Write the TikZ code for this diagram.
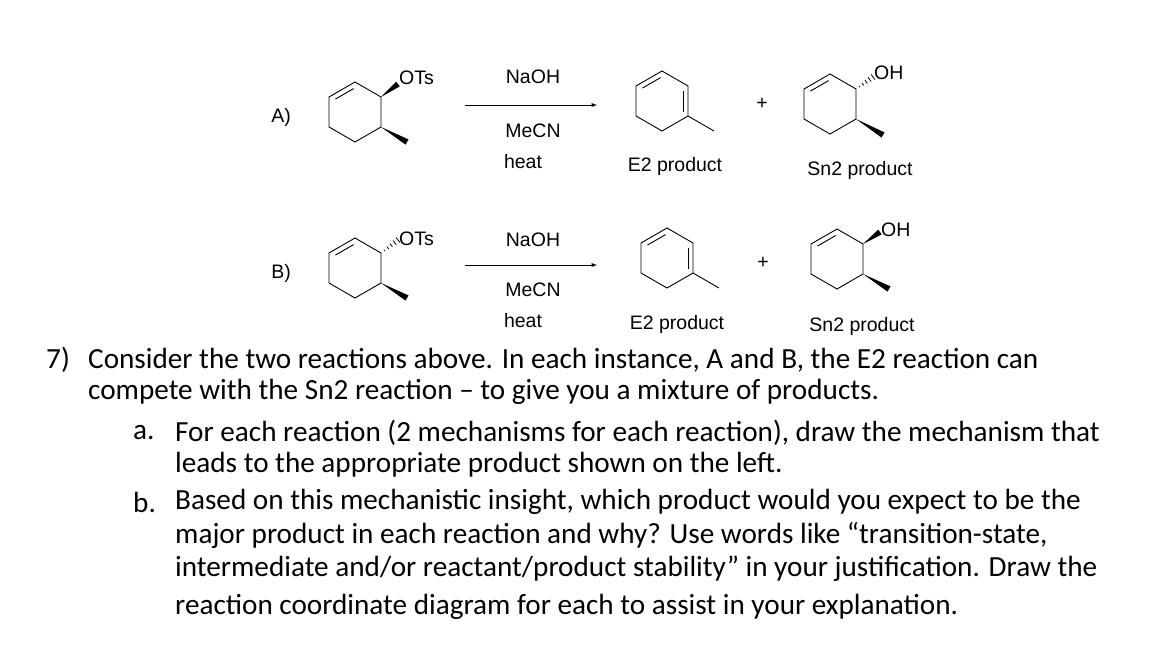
\documentclass[tikz,border=0pt]{standalone}
\usepackage{fontspec}
\setmainfont{Liberation Sans}
\newfontfamily\qfont{Carlito}
\usetikzlibrary{calc}
\tikzset{
  chem/.style={font=\fontsize{19.5}{22}\selectfont, inner sep=0pt},
  q/.style={font=\qfont\fontsize{29.2}{32}\selectfont, anchor=west, inner sep=0pt},
  bond/.style={line width=0.9pt},
}
\newcommand\ring[3]{%
  \coordinate (#1t) at ({#2},{#3-30});
  \coordinate (#1ur) at ({#2+26},{#3-15});
  \coordinate (#1lr) at ({#2+26},{#3+15});
  \coordinate (#1b) at ({#2},{#3+30});
  \coordinate (#1ll) at ({#2-26},{#3+15});
  \coordinate (#1ul) at ({#2-26},{#3-15});
  \draw[bond] (#1t)--(#1ur)--(#1lr)--(#1b)--(#1ll)--(#1ul)--cycle;
  \draw[bond] ({#2-1.4},{#3-23.4}) -- ({#2-19.6},{#3-12.9});
}
\newcommand\wedgeb[2]{\fill (#1) -- ($(#2)!3pt!90:(#1)$) -- ($(#2)!3pt!-90:(#1)$) -- cycle;}
\newcommand\hashb[2]{\foreach \t/\w in {0.2/0.8,0.4/1.4,0.6/2,0.8/2.6,1/3.2}
  {\draw[line width=0.8pt] ($(#1)!\t!(#2)!\w pt!90:(#1)$) -- ($(#1)!\t!(#2)!\w pt!-90:(#1)$);}}
\begin{document}
\begin{tikzpicture}[x=1pt,y=-1pt]
\useasboundingbox (0,0) rectangle (1164,656);
% A
\node[chem] (la) at (281,117) {A)};
\ring{ra}{355}{112}
\wedgeb{raur}{398,84}
\node[chem,anchor=west] (ota) at (399,78) {OTs};
\coordinate (rame) at (407,142);
\wedgeb{ralr}{rame}
\coordinate (a1) at (465,105); \coordinate (a2) at (597,105);
\draw[bond,-latex] (a1) -- (a2);
\node[chem] (na) at (533,77) {NaOH};
\node[chem] (ma) at (533,131) {MeCN};
\node[chem] (ha) at (523,162) {heat};
\ring{ea}{662}{101}
\draw[bond] ({662+21},{101-10.5}) -- ({662+21},{101+10.5});
\coordinate (eame) at (714,131);
\draw[bond] (ealr) -- (eame);
\node[chem] (pa) at (762,104) {+};
\ring{sa}{830}{104}
\coordinate (saoh) at (873,77);
\hashb{saur}{saoh}
\node[chem,anchor=west] (oha) at (874,73) {OH};
\coordinate (same) at (883,135);
\wedgeb{salr}{same}
\node[chem] (e2a) at (675,166) {E2 product};
\node[chem] (s2a) at (860,170) {Sn2 product};
% B
\node[chem] (lb) at (281,273) {B)};
\ring{rb}{355}{268}
\coordinate (rbot) at (398,240);
\hashb{rbur}{rbot}
\node[chem,anchor=west] (otb) at (399,239) {OTs};
\coordinate (rbme) at (407,298);
\wedgeb{rblr}{rbme}
\coordinate (b1) at (465,265); \coordinate (b2) at (597,265);
\draw[bond,-latex] (b1) -- (b2);
\node[chem] (nb) at (533,240) {NaOH};
\node[chem] (mb) at (533,290) {MeCN};
\node[chem] (hb) at (523,321) {heat};
\ring{eb}{667}{258}
\draw[bond] ({667+21},{258-10.5}) -- ({667+21},{258+10.5});
\coordinate (ebme) at (719,288);
\draw[bond] (eblr) -- (ebme);
\node[chem] (pb) at (763,263) {+};
\ring{sb}{837}{259}
\coordinate (sboh) at (880,232);
\wedgeb{sbur}{sboh}
\node[chem,anchor=west] (ohb) at (881,230) {OH};
\coordinate (sbme) at (889,289);
\wedgeb{sblr}{sbme}
\node[chem] (e2b) at (677,324) {E2 product};
\node[chem] (s2b) at (862,326) {Sn2 product};
% question
\node[q] (n7) at (46,360) {7)};
\node[q] (l1) at (88,360) {Consider the two reactions above. In each instance, A and B, the E2 reaction can};
\node[q] (l2) at (88,392) {compete with the Sn2 reaction – to give you a mixture of products.};
\node[q] (na2) at (133,433) {a.};
\node[q] (l3) at (175,433) {For each reaction (2 mechanisms for each reaction), draw the mechanism that};
\node[q] (l4) at (175,465) {leads to the appropriate product shown on the left.};
\node[q] (nb2) at (133,502) {b.};
\node[q] (l5) at (175,502) {Based on this mechanistic insight, which product would you expect to be the};
\node[q] (l6) at (175,535) {major product in each reaction and why? Use words like “transition-state,};
\node[q] (l7) at (175,569) {intermediate and/or reactant/product stability” in your justification. Draw the};
\node[q] (l8) at (175,607) {reaction coordinate diagram for each to assist in your explanation.};
\end{tikzpicture}
\end{document}
